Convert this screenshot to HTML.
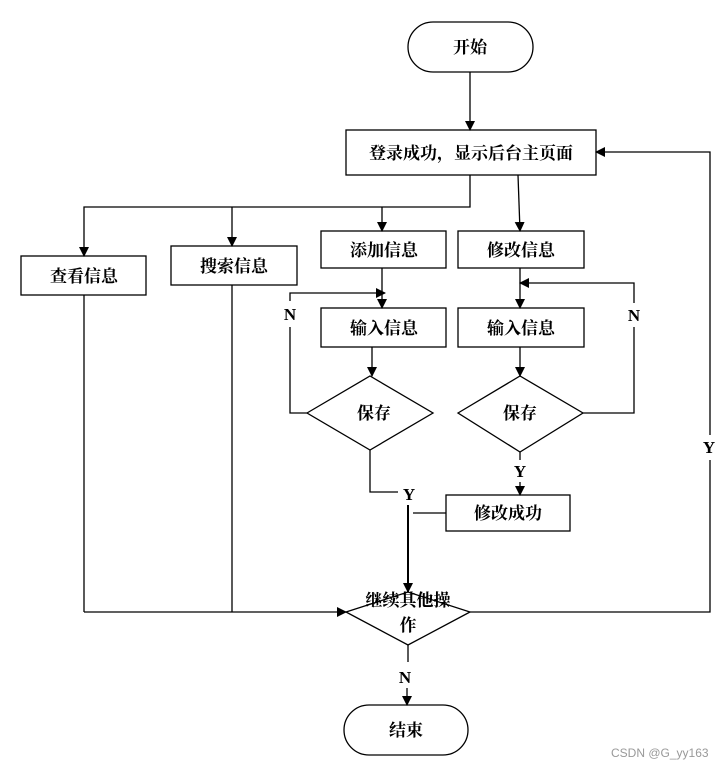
<!DOCTYPE html>
<html><head><meta charset="utf-8"><style>
html,body{margin:0;padding:0;background:#fff;}
svg text{font-family:"Liberation Serif","Noto Serif CJK SC",serif;font-size:17px;font-weight:bold;fill:#000;}
</style></head><body>
<svg width="726" height="770" viewBox="0 0 726 770" xmlns="http://www.w3.org/2000/svg">
<defs><marker id="a" markerWidth="10" markerHeight="10" refX="9" refY="5" orient="auto" markerUnits="userSpaceOnUse"><path d="M0,0 L10,5 L0,10 z" fill="#000"/></marker></defs>
<g fill="none" stroke="#000" stroke-width="1.3">
<rect x="408" y="22" width="125" height="50" rx="25"/>
<rect x="346" y="130" width="250" height="45"/>
<rect x="21" y="256" width="125" height="39"/>
<rect x="171" y="246" width="126" height="39"/>
<rect x="321" y="231" width="125" height="37"/>
<rect x="458" y="231" width="126" height="37"/>
<rect x="321" y="308" width="125" height="39"/>
<rect x="458" y="308" width="126" height="39"/>
<polygon points="307,413 370,376 433,413 370,450"/>
<polygon points="458,413 520,376 583,413 520,452"/>
<rect x="446" y="495" width="124" height="36"/>
<polygon points="346,612 408,592 470,612 408,645"/>
<rect x="344" y="705" width="124" height="50" rx="25"/>
<line x1="470" y1="72" x2="470" y2="130" marker-end="url(#a)"/>
<polyline points="470,175 470,207 84,207 84,256" marker-end="url(#a)"/>
<line x1="232" y1="207" x2="232" y2="246" marker-end="url(#a)"/>
<line x1="382" y1="207" x2="382" y2="231" marker-end="url(#a)"/>
<line x1="518" y1="175" x2="520" y2="231" marker-end="url(#a)"/>
<line x1="382" y1="268" x2="382" y2="308" marker-end="url(#a)"/>
<line x1="520" y1="268" x2="520" y2="308" marker-end="url(#a)"/>
<polyline points="307,413 290,413 290,327"/>
<polyline points="290,301 290,293 385,293" marker-end="url(#a)"/>
<line x1="372" y1="347" x2="372" y2="376" marker-end="url(#a)"/>
<line x1="520" y1="347" x2="520" y2="376" marker-end="url(#a)"/>
<polyline points="583,413 634,413 634,327"/>
<polyline points="634,303 634,283 520,283" marker-end="url(#a)"/>
<polyline points="370,450 370,492 398,492"/>
<line x1="520" y1="452" x2="520" y2="460"/>
<line x1="520" y1="482" x2="520" y2="495" marker-end="url(#a)"/>
<polyline points="446,513 413,513"/>
<line x1="408" y1="505" x2="408" y2="592" stroke-width="2" marker-end="url(#a)"/>
<line x1="84" y1="295" x2="84" y2="612"/>
<line x1="232" y1="285" x2="232" y2="612"/>
<line x1="84" y1="612" x2="346" y2="612" marker-end="url(#a)"/>
<polyline points="470,612 710,612 710,460"/>
<polyline points="710,435 710,152 596,152" marker-end="url(#a)"/>
<line x1="408" y1="645" x2="408" y2="662"/>
<line x1="407" y1="688" x2="407" y2="705" marker-end="url(#a)"/>
</g>
<g text-anchor="middle">
<text x="470" y="53">开始</text>
<text x="471" y="159">登录成功，显示后台主页面</text>
<text x="84" y="282">查看信息</text>
<text x="234" y="272">搜索信息</text>
<text x="384" y="256">添加信息</text>
<text x="521" y="256">修改信息</text>
<text x="384" y="334">输入信息</text>
<text x="521" y="334">输入信息</text>
<text x="374" y="419">保存</text>
<text x="520" y="419">保存</text>
<text x="508" y="519">修改成功</text>
<text x="408" y="606">继续其他操</text>
<text x="408" y="631">作</text>
<text x="406" y="736">结束</text>
<text x="290" y="320">N</text>
<text x="634" y="321">N</text>
<text x="409" y="500">Y</text>
<text x="520" y="477">Y</text>
<text x="709" y="453">Y</text>
<text x="405" y="683">N</text>
</g>
<text x="611" y="757" style="font-family:'Liberation Sans',sans-serif;font-size:12px;font-weight:normal;fill:#999">CSDN @G_yy163</text>
</svg>
</body></html>
